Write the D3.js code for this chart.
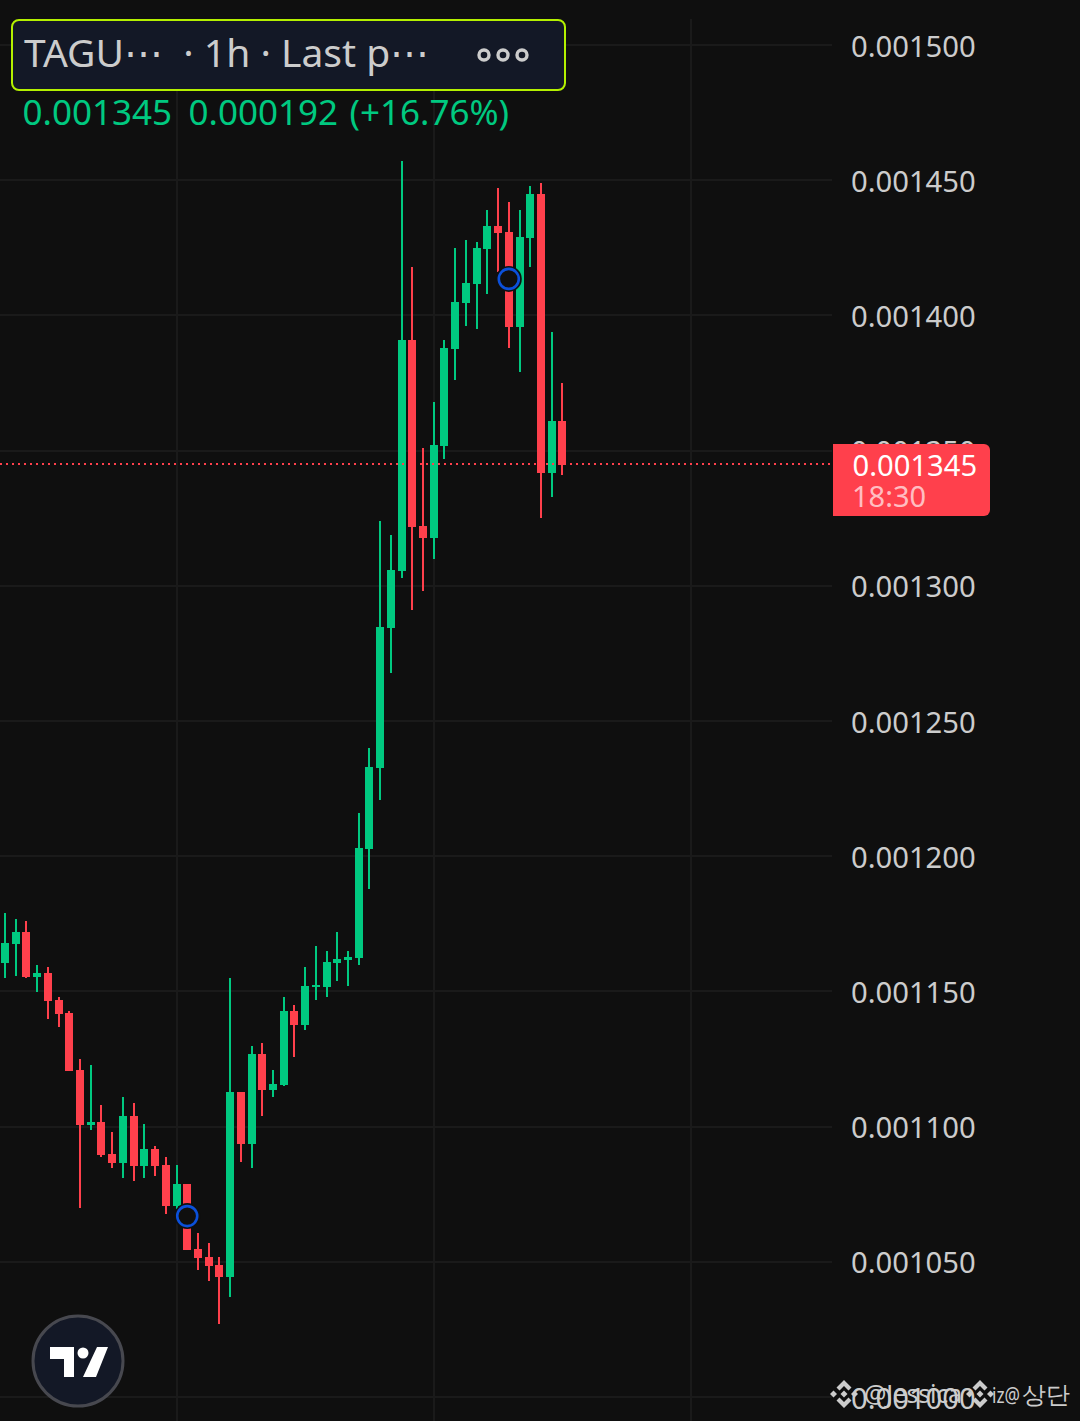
<!DOCTYPE html>
<html>
<head>
<meta charset="utf-8">
<script src="https://d3js.org/d3.v7.min.js"></script>
<style>
  html, body { margin: 0; padding: 0; background: #0f0f0f; }
  svg { display: block; }
  text { font-family: "Noto Sans", sans-serif; }
</style>
</head>
<body>
<svg id="chart" width="1080" height="1421"></svg>
<script>
// candles (price in units of 0.000001)
var opens = [1160.5,1167.5,1172.0,1155.3,1156.8,1146.8,1142.0,1120.9,1100.6,1101.7,1089.9,1086.5,1103.9,1085.4,1091.7,1085.8,1070.6,1078.8,1054.7,1051.8,1048.8,1044.4,1112.8,1093.6,1126.8,1113.5,1115.4,1142.8,1137.6,1151.6,1151.6,1160.5,1161.6,1162.4,1202.7,1232.6,1284.4,1305.5,1390.9,1322.1,1317.7,1351.7,1387.6,1404.6,1411.6,1424.6,1433.1,1430.8,1395.7,1428.6,1444.9,1341.7,1360.9];
var highs = [1179.0,1176.8,1176.0,1159.8,1159.0,1147.9,1142.8,1125.0,1122.8,1108.0,1098.0,1111.0,1108.7,1101.0,1092.8,1088.8,1085.8,1078.8,1060.7,1057.0,1051.8,1155.0,1112.8,1129.8,1130.9,1120.9,1147.9,1145.0,1159.0,1166.8,1164.9,1172.0,1164.9,1216.0,1240.0,1324.0,1318.8,1457.1,1417.9,1351.0,1368.0,1390.9,1424.9,1427.9,1427.1,1439.0,1447.1,1441.9,1439.0,1447.9,1449.0,1393.9,1375.0];
var lows = [1155.0,1155.7,1155.0,1149.8,1139.8,1136.8,1120.6,1069.9,1098.7,1088.8,1084.7,1081.0,1079.9,1081.0,1081.7,1067.7,1069.5,1054.4,1047.0,1042.9,1027.0,1037.0,1086.9,1084.7,1103.9,1111.0,1115.0,1125.7,1135.7,1146.8,1147.9,1153.9,1152.0,1159.8,1187.9,1220.8,1267.8,1302.9,1291.1,1298.1,1309.9,1346.9,1376.1,1396.1,1395.0,1407.9,1416.1,1387.9,1379.1,1417.9,1325.1,1332.8,1341.0];
var closes = [1167.9,1172.0,1155.3,1156.8,1146.5,1141.6,1120.6,1100.6,1101.7,1089.5,1086.5,1103.9,1085.4,1091.7,1085.4,1070.6,1078.8,1054.4,1051.4,1048.4,1044.4,1112.8,1093.6,1126.8,1113.5,1115.8,1142.8,1137.6,1152.0,1152.4,1160.9,1162.0,1162.7,1203.0,1233.0,1284.8,1305.8,1390.9,1321.7,1317.7,1352.1,1387.9,1405.0,1412.0,1424.9,1433.1,1430.5,1395.7,1429.0,1444.9,1341.7,1360.9,1344.7];

var priceTicks = [1000,1050,1100,1150,1200,1250,1300,1350,1400,1450,1500];
var timeGridBars = [16,40,64];
var markerBars = [17,47];
var markerPrices = [1066.9,1413.5];
var lastPrice = 1345;

var GREEN = "#00c980", RED = "#ff404c", BG = "#0f0f0f", GRID = "#1a1a1a", LABEL = "#cccccc";

var svg = d3.select("svg#chart");

var y = d3.scaleLinear().domain([1000, 1500]).range([1397, 45]);
var x = d3.scaleLinear().domain([0, 52]).range([5, 562.4]);
var fmt = function(d) { return d3.format(".6f")(d / 1e6); };

svg.append("rect").attr("width", 1080).attr("height", 1421).attr("fill", BG);

// grid
var grid = svg.append("g").attr("shape-rendering", "crispEdges");
grid.selectAll("line.h")
    .data(priceTicks)
    .enter().append("line")
    .attr("class", "h")
    .attr("x1", 0).attr("x2", 832)
    .attr("y1", function(d) { return Math.round(y(d)); })
    .attr("y2", function(d) { return Math.round(y(d)); })
    .attr("stroke", GRID).attr("stroke-width", 2);
grid.selectAll("line.v")
    .data(timeGridBars)
    .enter().append("line")
    .attr("class", "v")
    .attr("x1", function(d) { return Math.round(x(d)); })
    .attr("x2", function(d) { return Math.round(x(d)); })
    .attr("y1", 19).attr("y2", 1421)
    .attr("stroke", GRID).attr("stroke-width", 2);

// price axis
var axis = svg.append("g")
    .attr("transform", "translate(851,0)")
    .call(d3.axisRight(y).tickValues(priceTicks).tickSize(0).tickPadding(0).tickFormat(fmt));
axis.select(".domain").remove();
axis.selectAll("text")
    .attr("font-size", 29.2)
    .attr("font-family", "'Noto Sans', sans-serif")
    .attr("fill", LABEL)
    .attr("dy", "0.38em");

// candles
var candles = svg.append("g").attr("shape-rendering", "crispEdges");
var color = function(i) { return closes[i] >= opens[i] ? GREEN : RED; };
var bars = d3.range(opens.length);

candles.selectAll("rect.wick")
    .data(bars)
    .enter().append("rect")
    .attr("class", "wick")
    .attr("x", function(i) { return Math.round(x(i)) - 1; })
    .attr("width", 2)
    .attr("y", function(i) { return Math.round(y(highs[i])); })
    .attr("height", function(i) { return Math.round(y(lows[i])) - Math.round(y(highs[i])); })
    .attr("fill", color);

candles.selectAll("rect.body")
    .data(bars)
    .enter().append("rect")
    .attr("class", "body")
    .attr("x", function(i) { return Math.round(x(i)) - 4; })
    .attr("width", 8)
    .attr("y", function(i) { return Math.round(y(Math.max(opens[i], closes[i]))); })
    .attr("height", function(i) {
        return Math.max(2, Math.round(y(Math.min(opens[i], closes[i]))) - Math.round(y(Math.max(opens[i], closes[i]))));
    })
    .attr("fill", color);

// last price line
svg.append("line")
    .attr("x1", 0).attr("x2", 832)
    .attr("y1", Math.round(y(lastPrice))).attr("y2", Math.round(y(lastPrice)))
    .attr("stroke", RED).attr("stroke-width", 2)
    .attr("stroke-dasharray", "2 4")
    .attr("shape-rendering", "crispEdges");

// markers on the candles, with a dark halo that cuts the candle
var markers = svg.append("g");
markers.selectAll("circle.halo")
    .data(markerBars)
    .enter().append("circle")
    .attr("class", "halo")
    .attr("cx", function(d) { return x(d); })
    .attr("cy", function(d, i) { return y(markerPrices[i]); })
    .attr("r", 13)
    .attr("fill", BG);
markers.selectAll("circle.ring")
    .data(markerBars)
    .enter().append("circle")
    .attr("class", "ring")
    .attr("cx", function(d) { return x(d); })
    .attr("cy", function(d, i) { return y(markerPrices[i]); })
    .attr("r", 10)
    .attr("fill", "none")
    .attr("stroke", "#0b50da")
    .attr("stroke-width", 2.6);

// price tag
svg.append("path")
    .attr("d", "M833,444H984a6,6 0 0 1 6,6V510a6,6 0 0 1 -6,6H833Z")
    .attr("fill", RED);
svg.append("text").attr("x", 852.5).attr("y", 476)
    .attr("font-size", 29.2).attr("fill", "#ffffff").text(fmt(lastPrice));
svg.append("text").attr("x", 852).attr("y", 507)
    .attr("font-size", 29).attr("fill", "#ffffff").attr("fill-opacity", 0.68).text("18:30");

// legend box
svg.append("rect")
    .attr("x", 12).attr("y", 20).attr("width", 553).attr("height", 70).attr("rx", 7)
    .attr("fill", "#131826").attr("stroke", "#b4f000").attr("stroke-width", 2);
svg.append("text").attr("x", 24).attr("y", 67)
    .attr("font-size", 39).attr("fill", LABEL).attr("xml:space", "preserve")
    .text("TAGU\u22EF  \u00B7 1h \u00B7 Last p\u22EF");
svg.selectAll("circle.more")
    .data([484, 503, 522])
    .enter().append("circle")
    .attr("class", "more")
    .attr("cx", function(d) { return d; }).attr("cy", 55).attr("r", 5)
    .attr("fill", "none").attr("stroke", LABEL).attr("stroke-width", 3.4);

var legendVals = [[22.5, "0.001345"], [188.5, "0.000192"], [349.5, "(+16.76%)"]];
svg.selectAll("text.legend")
    .data(legendVals)
    .enter().append("text")
    .attr("class", "legend")
    .attr("x", function(d) { return d[0]; }).attr("y", 125)
    .attr("font-size", 35).attr("fill", GREEN)
    .text(function(d) { return d[1]; });

// tradingview logo
var logo = svg.append("g").attr("transform", "translate(78,1361)");
logo.append("circle").attr("r", 45).attr("fill", "#131826").attr("stroke", "#47484f").attr("stroke-width", 3);
logo.append("path").attr("d", "M-28,-14H-4V16H-14V-2H-28Z").attr("fill", "#fff");
logo.append("circle").attr("cx", 5).attr("cy", -8).attr("r", 5.5).attr("fill", "#fff");
logo.append("path").attr("d", "M19,-14H30L18,16H5Z").attr("fill", "#fff");

// watermark
function diamond(cx, cy) {
    var g = svg.append("g").attr("transform", "translate(" + cx + "," + cy + ")").attr("fill", LABEL);
    g.append("path").attr("d", "M0,-14L7.5,-6.5L4.5,-3.5L0,-8L-4.5,-3.5L-7.5,-6.5Z");
    g.append("path").attr("d", "M0,14L7.5,6.5L4.5,3.5L0,8L-4.5,3.5L-7.5,6.5Z");
    g.append("path").attr("d", "M-14,0L-10.5,-3.5L-7,0L-10.5,3.5Z");
    g.append("path").attr("d", "M14,0L10.5,-3.5L7,0L10.5,3.5Z");
    g.append("path").attr("d", "M0,-3.5L3.5,0L0,3.5L-3.5,0Z");
}
diamond(844, 1394);
diamond(980, 1394);
svg.append("text").attr("x", 864).attr("y", 1403)
    .attr("font-size", 25).attr("fill", LABEL)
    .attr("textLength", 98).attr("lengthAdjust", "spacing").text("@Jessica");
svg.append("text").attr("x", 992).attr("y", 1403)
    .attr("font-size", 22).attr("fill", LABEL)
    .attr("textLength", 28).attr("lengthAdjust", "spacingAndGlyphs").text("iz@");
svg.append("text").attr("x", 1022).attr("y", 1403)
    .attr("font-size", 24).attr("fill", LABEL)
    .attr("font-family", "'Noto Sans CJK KR', sans-serif").text("\uC0C1\uB2E8");
</script>
</body>
</html>
